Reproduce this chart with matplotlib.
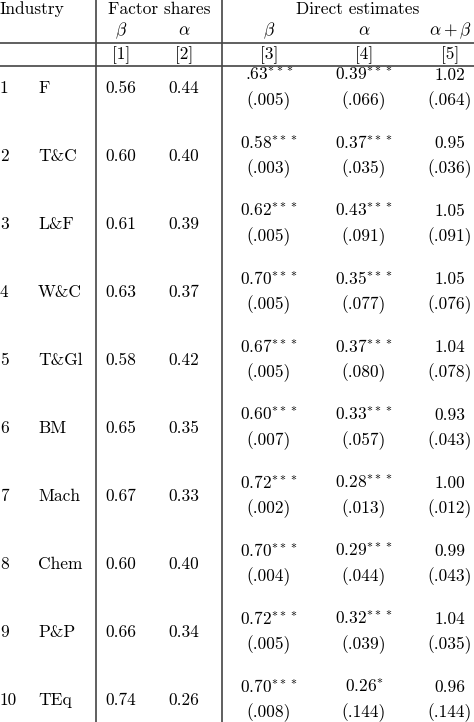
import matplotlib
matplotlib.use("Agg")
import matplotlib.pyplot as plt

plt.rcParams['font.family'] = ['cmr10', 'DejaVu Serif']
plt.rcParams['mathtext.fontset'] = 'cm'

nums = [str(i) for i in range(1, 11)]
industries = ["F", "T&C", "L&F", "W&C", "T&Gl", "BM", "Mach", "Chem", "P&P", "TEq"]
fs_beta = ["0.56", "0.60", "0.61", "0.63", "0.58", "0.65", "0.67", "0.60", "0.66", "0.74"]
fs_alpha = ["0.44", "0.40", "0.39", "0.37", "0.42", "0.35", "0.33", "0.40", "0.34", "0.26"]
de_beta = [".63", "0.58", "0.62", "0.70", "0.67", "0.60", "0.72", "0.70", "0.72", "0.70"]
de_beta_star = ["***"] * 10
de_beta_se = ["(.005)", "(.003)", "(.005)", "(.005)", "(.005)", "(.007)", "(.002)", "(.004)", "(.005)", "(.008)"]
de_alpha = ["0.39", "0.37", "0.43", "0.35", "0.37", "0.33", "0.28", "0.29", "0.32", "0.26"]
de_alpha_star = ["***"] * 9 + ["*"]
de_alpha_se = ["(.066)", "(.035)", "(.091)", "(.077)", "(.080)", "(.057)", "(.013)", "(.044)", "(.039)", "(.144)"]
de_sum = ["1.02", "0.95", "1.05", "1.05", "1.04", "0.93", "1.00", "0.99", "1.04", "0.96"]
de_sum_se = ["(.064)", "(.036)", "(.091)", "(.076)", "(.078)", "(.043)", "(.012)", "(.043)", "(.035)", "(.144)"]

W, H = 474, 722
fig = plt.figure(figsize=(W/100, H/100), dpi=100)
ax = fig.add_axes([0, 0, 1, 1])
ax.set_xlim(0, W); ax.set_ylim(H, 0); ax.axis('off')
fs = 12.5
def t(x, y, s, ha='center'):
    ax.text(x, y, s, ha=ha, va='center', fontsize=fs)

t(0, 9, "Industry", ha='left')
t(159, 9, "Factor shares")
t(358, 9, "Direct estimates")
cx = [121, 184, 269, 364, 450]
for x, s in zip(cx, [r'$\beta$', r'$\alpha$', r'$\beta$', r'$\alpha$', r'$\alpha+\beta$']):
    t(x, 31, s)
for x, s in zip(cx, ["[1]", "[2]", "[3]", "[4]", "[5]"]):
    t(x, 55, s)
ax.axhline(43, color='#444', lw=1.2)
ax.axhline(66, color='#444', lw=1.2)
ax.axvline(96, color='#444', lw=1.2)
ax.axvline(222, color='#444', lw=1.2)

for i in range(10):
    yc = 88 + i * 68
    t(0, yc, nums[i], ha='left')
    t(38, yc, industries[i], ha='left')
    t(cx[0], yc, fs_beta[i])
    t(cx[1], yc, fs_alpha[i])
    t(cx[2], yc - 13, de_beta[i] + r'$^{' + de_beta_star[i] + '}$')
    t(cx[2], yc + 13, de_beta_se[i])
    t(cx[3], yc - 13, de_alpha[i] + r'$^{' + de_alpha_star[i] + '}$')
    t(cx[3], yc + 13, de_alpha_se[i])
    t(cx[4], yc - 13, de_sum[i])
    t(cx[4], yc + 13, de_sum_se[i])

fig.savefig("out.png", dpi=100)
